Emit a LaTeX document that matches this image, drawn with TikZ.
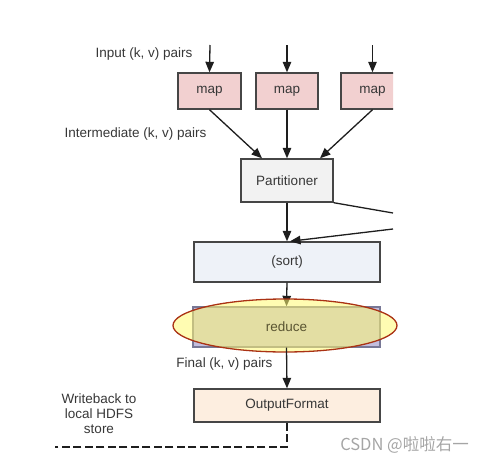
\documentclass[tikz,border=0pt]{standalone}
\usepackage{fontspec}
\setmainfont{Liberation Sans}
\newfontfamily\cjk{Noto Sans CJK SC}
\usetikzlibrary{arrows.meta,calc,shapes.geometric}
\definecolor{txt}{RGB}{55,55,55}
\definecolor{edge}{RGB}{70,70,70}
\definecolor{lnc}{RGB}{30,30,30}
\definecolor{mapfill}{RGB}{242,208,208}
\definecolor{partfill}{RGB}{242,242,242}
\definecolor{sortfill}{RGB}{238,242,248}
\definecolor{redfill}{RGB}{195,190,222}
\definecolor{redline}{RGB}{120,120,150}
\definecolor{outfill}{RGB}{253,238,224}
\definecolor{ellfill}{RGB}{255,249,115}
\definecolor{elldraw}{RGB}{170,50,20}
\definecolor{wm}{RGB}{165,165,165}
\tikzset{
  box/.style={draw=edge, line width=1.4pt, rectangle, inner sep=0pt, text=txt,
    font=\fontsize{13.5}{16}\selectfont},
  lbl/.style={text=txt, inner sep=0pt, font=\fontsize{13.5}{16}\selectfont, align=center},
  arr/.style={draw=lnc, fill=lnc, line width=1.3pt, -{Triangle[length=10.5pt,width=8.5pt]}},
  plain/.style={draw=lnc, line width=1.3pt},
  dashline/.style={draw=lnc, line width=1.4pt, dash pattern=on 8pt off 3.5pt},
}
\begin{document}
\begin{tikzpicture}[x=1pt,y=-1pt]
\useasboundingbox (0,0) rectangle (487,463);
% texts
\node[lbl] (inlbl) at (144,54) {Input (k, v) pairs};
\node[lbl] (midlbl) at (135.5,134) {Intermediate (k, v) pairs};
\node[lbl] (finlbl) at (224.5,364) {Final (k, v) pairs};
\node[lbl, font=\fontsize{13.5}{15}\selectfont] (wb) at (99,414) {Writeback to\\local HDFS\\store};
% top input points
\coordinate (i1) at (210,45);
\coordinate (i2) at (287,45);
\coordinate (i3) at (372.5,45);
% map boxes
\node[box, fill=mapfill, minimum width=63pt, minimum height=36pt] (m1) at (209.5,91) {map};
\node[box, fill=mapfill, minimum width=62pt, minimum height=36pt] (m2) at (287,91) {map};
\begin{scope}
\clip (0,0) rectangle (393,463);
\node[box, fill=mapfill, minimum width=63pt, minimum height=36pt] (m3) at (372.5,91) {map};
\end{scope}
\draw[arr] (i1) -- (m1.north);
\draw[arr] (i2) -- (m2.north);
\draw[arr] (i3) -- (m3.north);
% partitioner
\node[box, fill=partfill, minimum width=92pt, minimum height=43pt] (part) at (287,180.5) {Partitioner};
\draw[arr] (m1.south) -- ($(part.north)+(-25,0)$);
\draw[arr] (m2.south) -- (part.north);
\draw[arr] (m3.south) -- ($(part.north)+(33,0)$);
% sort
\node[box, fill=sortfill, minimum width=186pt, minimum height=40pt] (sort) at (287,262) {(sort)};
\draw[arr] (part.south) -- (sort.north);
\coordinate (offa) at (393,213);
\coordinate (offb) at (393,229);
\draw[plain] (part.south east) -- (offa);
\draw[arr] (offb) -- ($(sort.north)+(3,0)$);
% reduce
\node[box, draw=redline, fill=redfill, minimum width=187pt, minimum height=40pt] (red) at (286.5,327) {};
\draw[arr] (sort.south) -- (red.north);
\node[ellipse, draw=elldraw, line width=1.3pt, fill=ellfill, fill opacity=0.55, draw opacity=1,
  minimum width=224pt, minimum height=53pt, inner sep=0pt] (ell) at (285,325.5) {};
\node[lbl, text={rgb,255:red,90;green,85;blue,50}] (redtxt) at (red.center) {reduce};
% output format
\node[box, fill=outfill, minimum width=186pt, minimum height=33pt] (out) at (287,405.5) {OutputFormat};
\draw[arr] (red.south) -- (out.north);
\coordinate (dcorner) at (287,447);
\coordinate (dend) at (55,447);
\draw[dashline] (out.south) -- (dcorner) -- (dend);
% watermark
\node[inner sep=0pt, text=wm, font=\cjk\fontsize{16.5}{19}\selectfont] (wmark) at (404.5,445) {CSDN @啦啦右一};
\end{tikzpicture}
\end{document}
